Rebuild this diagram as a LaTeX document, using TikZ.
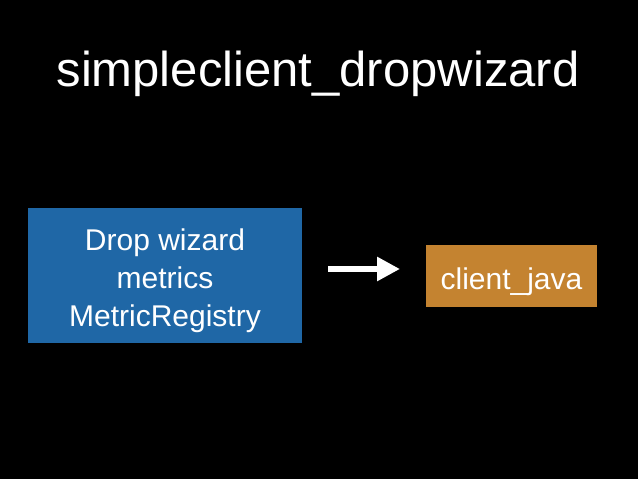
\documentclass[tikz,border=0pt]{standalone}
\usepackage{fontspec}
\setmainfont{Liberation Sans}
\usetikzlibrary{arrows.meta}
\definecolor{boxblue}{RGB}{31,103,166}
\definecolor{boxorange}{RGB}{196,131,48}
\begin{document}
\begin{tikzpicture}[x=1pt,y=-1pt,
  box/.style={draw=none,inner sep=0pt},
  label/.style={text=white,align=center,inner sep=0pt},
  fat/.style={white,line width=6pt,-{Triangle[length=23pt,width=23pt]}}]
\fill[black] (0,0) rectangle (638,479);
\useasboundingbox (0,0) rectangle (638,479);
\node[text=white,anchor=base,font=\fontsize{49}{55}\selectfont,inner sep=0pt] (title) at (318,86) {simpleclient\_dropwizard};
\node[box,fill=boxblue,minimum width=274pt,minimum height=135pt] (blue) at (165,275.5) {};
\node[label,font=\fontsize{30}{38}\selectfont] (bluetext) at (165,281) {Drop wizard\\metrics\\MetricRegistry};
\node[box,fill=boxorange,minimum width=171pt,minimum height=62pt] (orange) at (511.5,276) {};
\node[label,font=\fontsize{30}{36}\selectfont,anchor=base] (orangetext) at (511.5,289) {client\_java};
\coordinate (a1) at (328,269);
\coordinate (a2) at (400,269);
\draw[fat] (a1) -- (a2);
\end{tikzpicture}
\end{document}
